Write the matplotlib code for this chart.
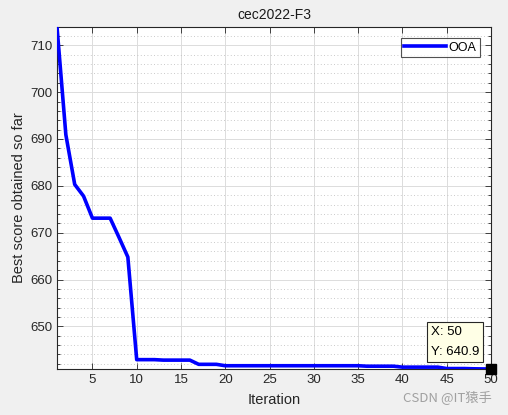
import numpy as np
import matplotlib.pyplot as plt
from matplotlib.ticker import MultipleLocator

plt.rcParams['font.family'] = ['Liberation Sans', 'DejaVu Sans']

# convergence curve
iters = np.arange(1, 51)
best = [713.9, 690.9, 680.3, 677.8, 673.1, 673.1, 673.1, 669.0, 664.8, 642.9,
        642.9, 642.9, 642.8, 642.8, 642.8, 642.8, 641.9, 641.9, 641.9, 641.6,
        641.6, 641.6, 641.6, 641.6, 641.6, 641.6, 641.6, 641.6, 641.6, 641.6,
        641.6, 641.6, 641.6, 641.6, 641.6, 641.5, 641.5, 641.5, 641.5, 641.3,
        641.3, 641.3, 641.3, 641.3, 641.0, 641.0, 641.0, 640.95, 640.92, 640.9]
xticks = [5, 10, 15, 20, 25, 30, 35, 40, 45, 50]
yticks = [650, 660, 670, 680, 690, 700, 710]

fig = plt.figure(figsize=(5.08, 4.15), dpi=100)
fig.patch.set_facecolor('#f0f0f0')
ax = fig.add_axes([0.1122, 0.1108, 0.8543, 0.8241])

ax.plot(iters, best, color='#0000ff', lw=2.6, label='OOA', zorder=3)

ax.set_xlim(1, 50)
ax.set_ylim(640.9, 713.9)
ax.set_xticks(xticks)
ax.set_yticks(yticks)
ax.yaxis.set_minor_locator(MultipleLocator(2))
ax.tick_params(which='both', direction='in', top=True, right=True,
               labelsize=9.5, colors='#262626', length=4, width=0.6)
ax.tick_params(which='minor', length=2)
ax.grid(True, which='major', color='#dcdcdc', lw=0.7)
ax.grid(True, which='minor', axis='y', color='#b8b8b8', lw=0.6, ls=(0, (1, 3)))
ax.set_axisbelow(True)
for s in ax.spines.values():
    s.set_color('#262626')
    s.set_linewidth(0.8)

ax.set_title('cec2022-F3', fontsize=10, color='#1a1a1a', pad=6)
ax.set_xlabel('Iteration', fontsize=10.5, color='#262626', labelpad=5)
ax.set_ylabel('Best score obtained so far', fontsize=10.5, color='#262626', labelpad=3)

leg = ax.legend(loc='upper right', fontsize=9, frameon=True, fancybox=False,
                handlelength=3.3, handletextpad=0.2, borderpad=0.3, borderaxespad=0,
                bbox_to_anchor=(0.974, 0.968))
leg.get_frame().set_edgecolor('#262626')
leg.get_frame().set_linewidth(0.8)

# data tip
ax.plot([iters[-1]], [best[-1]], marker='s', ms=7, color='black', clip_on=False, zorder=5)
ax.annotate('X: 50\nY: 640.9', xy=(iters[-1], best[-1]), xytext=(-12, 11),
            textcoords='offset pixels', fontsize=9.5, linespacing=1.85,
            va='bottom', ha='right', multialignment='left',
            bbox=dict(boxstyle='square,pad=0.3', fc='#ffffe6', ec='#262626', lw=0.8),
            zorder=6)

fig.text(0.793, 0.031, 'CSDN @IT猿手', fontsize=9.5, color='#a0a0a0',
         family=['Noto Sans CJK SC', 'DejaVu Sans'])

fig.savefig('out.png', dpi=100, facecolor=fig.get_facecolor())
